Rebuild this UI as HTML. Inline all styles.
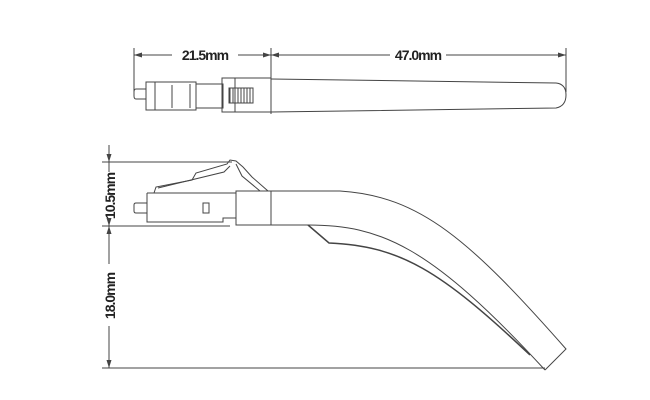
<!DOCTYPE html>
<html><head><style>
html,body{margin:0;padding:0;background:#fff;}
svg{display:block}
text{font-family:"Liberation Sans",sans-serif;font-weight:bold;font-size:14px;fill:#222;letter-spacing:-1px}
</style></head><body>
<svg width="650" height="400" viewBox="0 0 650 400" fill="none" stroke="#444" stroke-width="1">
<!-- top dimensions -->
<line x1="134" y1="48" x2="134" y2="92"/>
<line x1="271" y1="48" x2="271" y2="114"/>
<line x1="566" y1="48" x2="566" y2="92"/>
<line x1="134" y1="55" x2="172" y2="55"/><line x1="238" y1="55" x2="271" y2="55"/>
<line x1="271" y1="55" x2="390" y2="55"/><line x1="446" y1="55" x2="566" y2="55"/>
<path d="M134 55 l8 -2.5 v5z M271 55 l-8 -2.5 v5z M271 55 l8 -2.5 v5z M566 55 l-8 -2.5 v5z" fill="#444" stroke="none"/>
<text x="205" y="60" text-anchor="middle" stroke="none">21.5mm</text>
<text x="418" y="60" text-anchor="middle" stroke="none">47.0mm</text>
<!-- top view connector -->
<path d="M146 89 h-10 q-2 0 -2 3 v4 q0 3 2 3 h10"/>
<rect x="146" y="82" width="50" height="28"/>
<line x1="155" y1="82" x2="155" y2="110"/>
<line x1="172" y1="85" x2="172" y2="108"/>
<line x1="190" y1="84" x2="190" y2="108"/>
<rect x="196" y="84" width="27" height="24"/>
<rect x="222" y="78" width="49" height="34"/>
<line x1="235" y1="78" x2="235" y2="112"/>
<path d="M230 88 v15 M233 88 v15 M238 88 v15 M241 88 v15 M244 88 v15 M247 88 v15 M250 88 v15 M253 88 v15"/>
<rect x="229" y="88" width="24" height="15"/>
<!-- top boot -->
<path d="M271 79 L556 83 Q566 84 566 95 Q566 106 556 108 L271 112"/>
<!-- side dimensions -->
<line x1="102" y1="162" x2="232" y2="162"/>
<line x1="102" y1="226" x2="230" y2="226"/>
<line x1="102" y1="368" x2="545" y2="368"/>
<line x1="109" y1="145" x2="109" y2="172"/><line x1="109" y1="220" x2="109" y2="226"/>
<line x1="109" y1="226" x2="109" y2="264"/><line x1="109" y1="326" x2="109" y2="368"/>
<path d="M109 162 l-2.5 -8 h5z M109 226 l-2.5 8 h5z M109 226 l-2.5 -8 h5z M109 368 l-2.5 -8 h5z" fill="#444" stroke="none"/>
<text transform="translate(115 196) rotate(-90)" text-anchor="middle" stroke="none">10.5mm</text>
<text transform="translate(115 296) rotate(-90)" text-anchor="middle" stroke="none">18.0mm</text>
<!-- side connector -->
<path d="M147 203 h-11 q-2 0 -2 2 v6 q0 2 2 2 h11"/>
<path d="M147 193 V222 H223 V218 H236"/>
<line x1="147" y1="193" x2="236" y2="193"/>
<rect x="203" y="203" width="6" height="10"/>
<rect x="236" y="191" width="35" height="34"/>
<path d="M154 193 L156 187 L192 180 L196 173 L227 164 L230 160 L236 161 L243 167 L252 177 L268 191"/>
<path d="M158 188 L224 172 L230 166"/>
<path d="M236 164 L242 176 L260 191"/>
<!-- side boot -->
<path d="M271 191 L340 191 C420 196 470 240 566 349 L545 370"/>
<path d="M271 225 L308 225 C380 225 430 245 545 370"/>
<path d="M308 225 L329 243 C400 246 440 270 530 355" stroke-width="1.5"/>
</svg>
</body></html>
